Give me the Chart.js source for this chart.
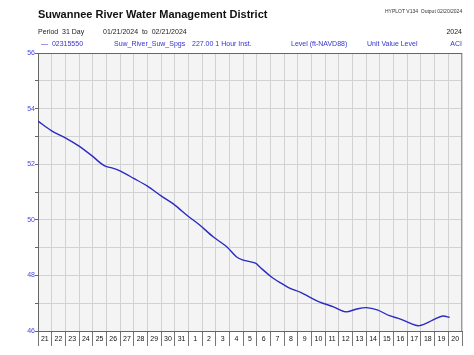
<!DOCTYPE html>
<html><head><meta charset="utf-8">
<script src="https://cdn.jsdelivr.net/npm/chart.js@4"></script>
<style>
html,body{margin:0;padding:0;background:#fff;}
#wrap{position:relative;width:474px;height:355px;overflow:hidden;font-family:"Liberation Sans",Arial,sans-serif;}
canvas{position:absolute;left:0;top:0;}
.t{position:absolute;white-space:nowrap;line-height:1;}
.b{color:#3434d0;}
</style></head><body>
<div id="wrap">
<canvas id="c" width="474" height="355"></canvas>
<div class="t" style="left:38px;top:9px;font-size:11px;font-weight:bold;color:#111;">Suwannee River Water Management District</div>
<div class="t" style="left:385px;top:9px;font-size:5px;color:#333;">HYPLOT V134&nbsp; Output 02/20/2024</div>
<div class="t" style="left:38px;top:28px;font-size:7px;color:#222;">Period</div>
<div class="t" style="left:62px;top:28px;font-size:7px;color:#222;">31 Day</div>
<div class="t" style="left:103px;top:28px;font-size:7px;color:#222;">01/21/2024&nbsp; to&nbsp; 02/21/2024</div>
<div class="t" style="right:12px;top:28px;font-size:7px;color:#222;">2024</div>
<div class="t b" style="left:41px;top:40px;font-size:7px;">&#8212;&nbsp; 02315550</div>
<div class="t b" style="left:114px;top:40px;font-size:7px;">Suw_River_Suw_Spgs</div>
<div class="t b" style="left:192px;top:40px;font-size:7px;">227.00 1 Hour Inst.</div>
<div class="t b" style="left:291px;top:40px;font-size:7px;">Level (ft-NAVD88)</div>
<div class="t b" style="left:367px;top:40px;font-size:7px;">Unit Value Level</div>
<div class="t b" style="right:12px;top:40px;font-size:7px;">ACI</div>
</div>
<script>
// Day labels (cells from 01/21/2024 to 02/20/2024)
const dayLabels = ['21','22','23','24','25','26','27','28','29','30','31','1','2','3','4','5','6','7','8','9','10','11','12','13','14','15','16','17','18','19','20'];
// Time in days since 01/21/2024 00:00
const dayOffsets = [0,1,2,3,4,4.6,5,5.4,6,7,8,9,10,11,11.8,12.8,13.8,14.5,15,15.9,16.2,17,17.7,18.4,19.2,19.9,20.6,21.6,22.5,23.3,24,24.8,25.7,26.5,27.2,27.8,28.4,29,29.6,30.1];
// Water level, ft NAVD88
const levels = [53.55,53.2,52.95,52.65,52.28,52.03,51.91,51.87,51.76,51.49,51.21,50.86,50.53,50.12,49.82,49.39,49.03,48.67,48.55,48.44,48.31,47.97,47.74,47.54,47.39,47.21,47.04,46.87,46.69,46.79,46.84,46.76,46.55,46.43,46.28,46.19,46.28,46.43,46.54,46.49];
const yMin = 46, yMax = 56;

const pts = dayOffsets.map((d,i)=>({x:d,y:levels[i]}));

const borderPlugin = {
  id:'border',
  afterDraw(chart){
    const a = chart.chartArea, ctx = chart.ctx;
    ctx.save();
    ctx.lineWidth = 1;
    ctx.strokeStyle = '#9a9a9a';
    ctx.beginPath();
    ctx.moveTo(Math.round(a.right)-0.5, Math.round(a.top));
    ctx.lineTo(Math.round(a.right)-0.5, Math.round(a.bottom));
    ctx.stroke();
    ctx.strokeStyle = '#666';
    ctx.beginPath();
    ctx.moveTo(Math.round(a.left), Math.round(a.top)+0.5);
    ctx.lineTo(Math.round(a.right), Math.round(a.top)+0.5);
    ctx.stroke();
    ctx.restore();
  }
};
const bgPlugin = {
  id:'bg',
  beforeDraw(chart){
    const a = chart.chartArea, ctx = chart.ctx;
    ctx.save();
    ctx.fillStyle = '#f4f4f4';
    ctx.fillRect(a.left, a.top, a.right-a.left, a.bottom-a.top);
    ctx.restore();
  }
};

new Chart(document.getElementById('c'), {
  type:'line',
  data:{
    labels: dayLabels,
    datasets:[{
      data: pts,
      xAxisID:'xd',
      borderColor:'#2a2ac4',
      borderWidth:1.4,
      pointRadius:0,
      tension:0.3,
      fill:false
    }]
  },
  options:{
    responsive:false,
    animation:false,
    layout:{padding:{left:0,top:53,right:12,bottom:0}},
    plugins:{legend:{display:false},tooltip:{enabled:false},title:{display:false}},
    scales:{
      x:{
        type:'category',
        offset:true,
        grid:{offset:true,color:'#d2d2d2',lineWidth:1,drawTicks:true,tickLength:15,tickColor:'#777'},
        border:{display:true,color:'#666'},
        ticks:{color:'#111',font:{size:7,family:'"Liberation Sans", Arial'},padding:-11,maxRotation:0,autoSkip:false},
        afterFit(s){ s.height = 24; }
      },
      xd:{
        type:'linear',
        display:false,
        min:0,max:31
      },
      y:{
        min:yMin,max:yMax,
        grid:{color:'#d2d2d2',drawTicks:true,tickLength:3,tickColor:'#666'},
        border:{display:true,color:'#666'},
        ticks:{stepSize:1,color:'#4646e0',font:{size:7,family:'"Liberation Sans", Arial'},padding:0,
          callback:(v)=> (v%2===0 ? String(v) : '')},
        afterFit(s){ s.width = 38; }
      }
    }
  },
  plugins:[bgPlugin,borderPlugin]
});
</script>
</body></html>
